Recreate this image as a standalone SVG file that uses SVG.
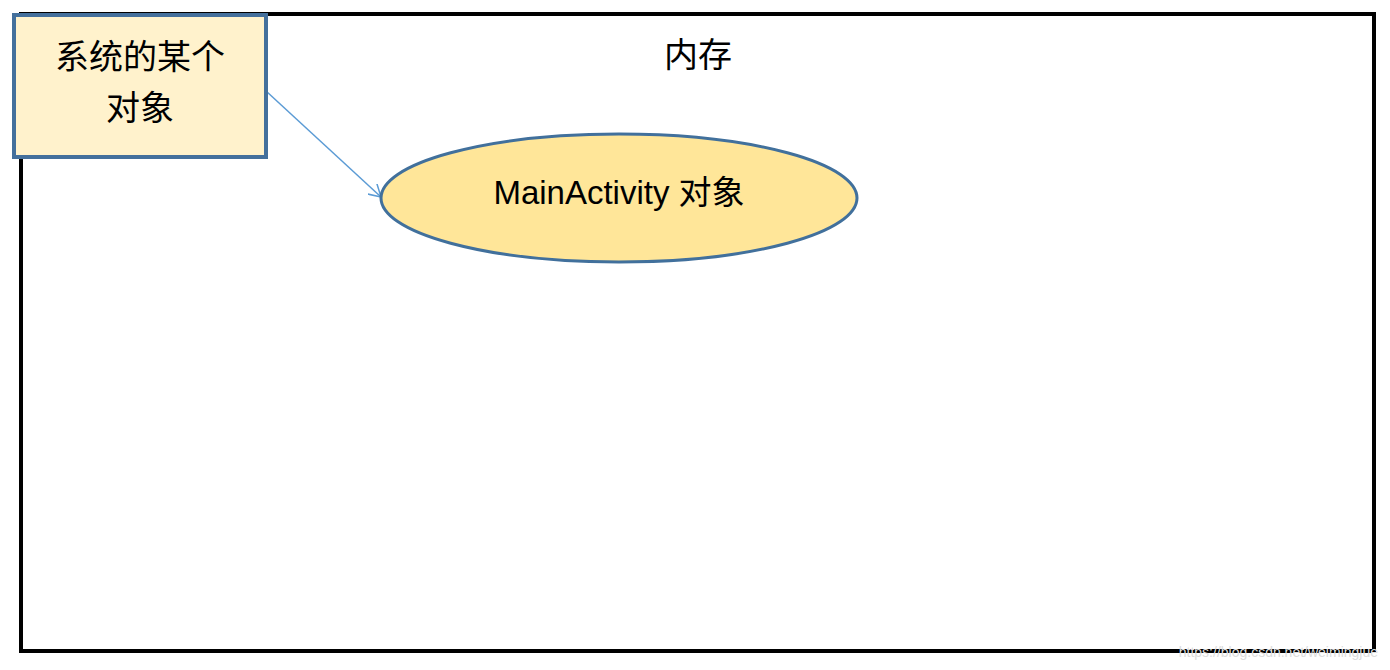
<svg xmlns="http://www.w3.org/2000/svg" width="1390" height="670" viewBox="0 0 1390 670">
<style>
.cjk{font-family:"Liberation Sans","Noto Sans CJK SC",sans-serif;fill:#000}
</style>
<defs>
<marker id="arr" markerWidth="14" markerHeight="14" refX="12" refY="7" orient="auto" markerUnits="userSpaceOnUse">
<path d="M0,0 L12,7 L0,14" fill="none" stroke="#5b9bd5" stroke-width="1.5"/>
</marker>
</defs>
<rect width="1390" height="670" fill="#fff"/>
<g id="memory">
<rect x="21" y="14" width="1353" height="637" fill="#fff" stroke="#000" stroke-width="4"/>
<text class="cjk" x="698" y="67" font-size="34" text-anchor="middle">内存</text>
</g>
<g id="connectors">
<line x1="266" y1="91" x2="381" y2="197" stroke="#5b9bd5" stroke-width="1.5" marker-end="url(#arr)"/>
</g>
<g id="system">
<rect x="14" y="15" width="252" height="142" fill="#fff2cc" stroke="#44709c" stroke-width="4"/>
<text class="cjk" x="140" y="69" font-size="34" text-anchor="middle">系统的某个</text>
<text class="cjk" x="140" y="120" font-size="34" text-anchor="middle">对象</text>
</g>
<g id="main">
<ellipse cx="619" cy="198" rx="238" ry="64" fill="#ffe699" stroke="#41709c" stroke-width="3"/>
<text class="cjk" x="619" y="204" font-size="33" text-anchor="middle">MainActivity 对象</text>
</g>
<text x="1378" y="657" font-family="Liberation Sans,sans-serif" font-size="14" fill="#ddd" text-anchor="end">https://blog.csdn.net/weimingjue</text>
</svg>
